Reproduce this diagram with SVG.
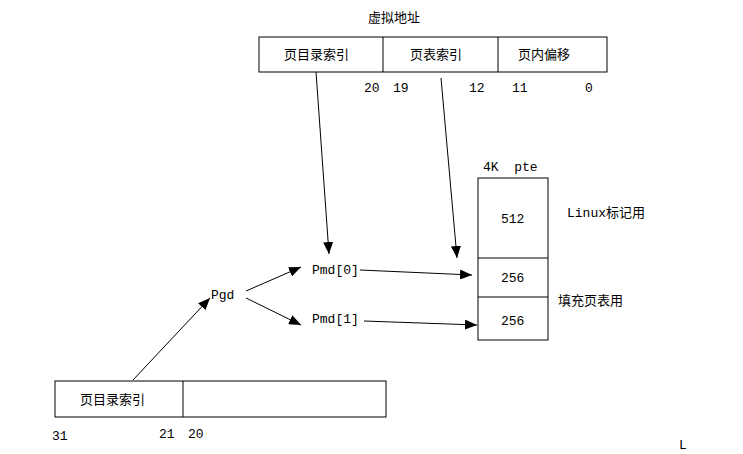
<svg xmlns="http://www.w3.org/2000/svg" width="743" height="454" viewBox="0 0 743 454">
<style>
.b{fill:#fff;stroke:#000;stroke-width:1}
.t{font-family:"Liberation Mono","Noto Sans CJK SC",monospace;font-size:13px;fill:#000}
.c{font-family:"Noto Sans CJK SC",sans-serif;font-size:13px;fill:#000}
.l{stroke:#000;stroke-width:1;fill:none;marker-end:url(#a)}
</style>
<defs><marker id="a" markerWidth="12" markerHeight="10" refX="12" refY="5" orient="auto" markerUnits="userSpaceOnUse"><path d="M0,0 L12,5 L0,10 Z" fill="#000"/></marker></defs>
<rect width="743" height="454" fill="#fff"/>
<g id="vaddr">
<text class="c" x="368" y="22">虚拟地址</text>
<rect class="b" x="259" y="37" width="348" height="35"/>
<line x1="383" y1="37" x2="383" y2="72" stroke="#000"/>
<line x1="498" y1="37" x2="498" y2="72" stroke="#000"/>
<text class="c" x="284" y="59">页目录索引</text>
<text class="c" x="410" y="59">页表索引</text>
<text class="c" x="518" y="59">页内偏移</text>
<text class="t" x="364" y="92">20</text>
<text class="t" x="393" y="92">19</text>
<text class="t" x="469" y="92">12</text>
<text class="t" x="512" y="92">11</text>
<text class="t" x="585" y="92">0</text>
</g>
<g id="pte">
<text class="t" x="483" y="171" xml:space="preserve">4K  pte</text>
<rect class="b" x="478" y="178" width="70" height="162"/>
<line x1="478" y1="258" x2="548" y2="258" stroke="#000"/>
<line x1="478" y1="297" x2="548" y2="297" stroke="#000"/>
<text class="t" x="501" y="223">512</text>
<text class="t" x="501" y="282">256</text>
<text class="t" x="501" y="325">256</text>
<text class="t" x="567" y="217">Linux标记用</text>
<text class="c" x="558" y="305">填充页表用</text>
</g>
<g id="pgd"><text class="t" x="211" y="299">Pgd</text></g>
<g id="pmd0"><text class="t" x="312" y="274">Pmd[0]</text></g>
<g id="pmd1"><text class="t" x="312" y="323">Pmd[1]</text></g>
<g id="dir">
<rect class="b" x="55" y="381" width="331" height="36"/>
<line x1="183" y1="381" x2="183" y2="417" stroke="#000"/>
<text class="c" x="80" y="404">页目录索引</text>
<text class="t" x="52" y="440">31</text>
<text class="t" x="159" y="438">21</text>
<text class="t" x="188" y="438">20</text>
</g>
<text class="t" x="679" y="449">L</text>
<g id="connectors">
<line class="l" x1="316" y1="72" x2="329" y2="254"/>
<line class="l" x1="441" y1="78" x2="457" y2="258"/>
<line class="l" x1="133" y1="380" x2="210" y2="298"/>
<line class="l" x1="246" y1="291" x2="301" y2="267"/>
<line class="l" x1="246" y1="298" x2="301" y2="325"/>
<line class="l" x1="360" y1="270" x2="472" y2="275"/>
<line class="l" x1="364" y1="321" x2="477" y2="325"/>
</g>
</svg>
